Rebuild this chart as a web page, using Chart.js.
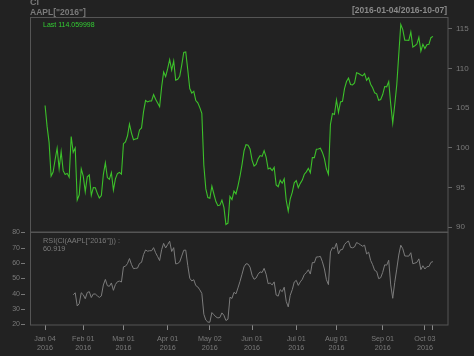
<!DOCTYPE html>
<html><head><meta charset="utf-8">
<script src="https://cdn.jsdelivr.net/npm/chart.js@4.4.1/dist/chart.umd.min.js"></script>
<style>
html,body{margin:0;padding:0;background:#222222;width:474px;height:356px;overflow:hidden;font-family:"Liberation Sans",Arial,sans-serif}
.t{position:absolute;white-space:pre;line-height:1}
#w1{position:absolute;left:0;top:0;width:474px;height:233px}
#w2{position:absolute;left:0;top:222px;width:474px;height:134px}
</style></head><body>
<div id="w1"><canvas id="c1" width="474" height="233"></canvas></div>
<div id="w2"><canvas id="c2" width="474" height="134"></canvas></div>
<div class="t" style="left:30px;top:-2px;font-size:9px;font-weight:bold;color:#7a7a7a">Cl</div>
<div class="t" style="left:30px;top:8px;font-size:8.5px;font-weight:bold;color:#7a7a7a">AAPL["2016"]</div>
<div class="t" style="right:27px;top:5.5px;font-size:8.5px;font-weight:bold;color:#8a8a8a">[2016-01-04/2016-10-07]</div>
<div class="t" style="left:43px;top:21px;font-size:7px;color:#33cc33">Last 114.059998</div>
<div class="t" style="left:43px;top:237px;font-size:7.3px;color:#7a7a7a">RSI(Cl(AAPL["2016"])) :</div>
<div class="t" style="left:43px;top:244.5px;font-size:7.3px;color:#7a7a7a">60.919</div>
<script>
// AAPL daily close, 2016-01-04 .. 2016-10-07 (194 trading days)
const closes=[105.35,102.71,100.70,96.45,96.96,98.53,99.96,97.39,99.52,97.13,96.66,96.79,96.30,101.42,99.44,99.99,93.42,94.09,97.34,
96.43,94.48,96.35,96.60,94.02,95.01,94.99,94.27,93.70,93.99,96.64,98.12,96.26,96.04,96.88,94.69,96.10,96.76,96.91,96.69,
100.53,100.75,101.50,103.01,101.87,101.03,101.12,101.17,102.26,102.52,104.58,105.97,105.80,105.92,105.91,106.72,106.13,105.67,105.19,107.68,109.56,108.99,
109.99,111.12,109.81,110.96,108.54,108.66,109.02,110.44,112.04,112.10,109.85,107.48,106.91,107.13,105.97,105.68,105.08,104.35,97.82,94.83,93.74,
93.64,95.18,94.19,93.24,92.72,92.79,93.42,92.51,90.34,90.52,93.88,93.49,94.56,94.20,95.22,96.43,97.90,99.62,100.41,100.35,99.86,
98.46,97.72,97.92,98.63,99.03,98.94,99.65,98.83,97.34,97.46,97.14,97.55,95.33,95.10,95.91,95.55,96.10,93.40,92.04,93.59,94.40,95.60,
95.89,94.99,95.53,95.94,96.68,96.98,97.42,96.87,98.79,98.78,99.83,99.87,99.96,99.43,98.66,97.34,96.67,102.95,104.34,104.21,
106.05,104.48,105.79,105.87,107.48,108.37,108.81,108.00,107.93,108.18,109.48,109.38,109.22,109.08,109.36,108.51,108.85,108.03,107.57,106.94,106.82,106.00,106.10,
106.73,107.73,107.70,108.36,105.52,103.13,105.44,107.95,111.77,115.57,114.92,113.58,113.57,113.55,114.62,112.71,112.88,113.09,113.95,112.18,113.05,
112.52,113.00,113.05,113.89,114.06];
// RSI(14) values (first 14 undefined)
const rsiValues=[null,null,null,null,null,null,null,null,null,null,null,null,null,null,
39.3,40.6,32.0,33.5,40.6,39.3,36.7,40.8,41.3,37.5,39.8,39.8,
38.6,37.6,38.5,45.7,49.3,45.2,44.8,47.0,42.2,46.0,47.8,48.2,
47.6,57.5,57.9,59.6,62.9,59.0,56.3,56.5,56.7,59.7,60.4,65.5,
68.5,67.7,68.0,68.0,70.0,66.7,64.2,61.6,68.7,72.8,69.8,72.0,
74.2,67.5,70.0,59.4,59.7,60.7,64.5,68.3,68.4,58.4,50.1,48.3,
49.1,45.3,44.4,42.5,40.2,26.6,22.8,21.5,21.4,27.7,26.3,24.9,
24.2,24.5,27.5,25.9,22.5,23.4,37.7,36.9,40.9,39.9,43.8,48.0,
52.7,57.5,59.5,59.3,57.3,52.0,49.4,50.2,52.7,54.2,53.8,56.5,
52.7,46.5,47.0,45.7,47.7,39.1,38.4,42.6,41.3,44.2,35.0,31.4,
39.0,42.6,47.6,48.7,45.4,47.7,49.4,52.5,53.7,55.6,52.8,60.3,
60.2,63.9,64.0,64.3,60.8,56.1,49.1,45.9,67.2,70.0,69.4,72.9,
65.9,68.6,68.8,72.0,73.5,74.3,70.2,69.9,70.5,73.3,72.7,71.8,
70.9,71.6,65.9,67.1,61.7,58.9,55.2,54.5,49.8,50.4,53.9,58.8,
58.6,61.8,45.7,37.0,47.4,56.0,65.2,71.6,69.3,64.6,64.5,64.5,
66.7,59.5,59.9,60.4,62.7,55.7,58.2,56.1,57.6,57.7,60.4,60.9];
// x-axis ticks: trading-day index and label
const xTickIndex=[0,19,39,61,82,103,125,145,168,189,193];
const xTickLabels=['Jan 04\n2016','Feb 01\n2016','Mar 01\n2016','Apr 01\n2016','May 02\n2016','Jun 01\n2016','Jul 01\n2016','Aug 01\n2016','Sep 01\n2016','Oct 03\n2016',''];
const priceTicks=[90,95,100,105,110,115];
const rsiTicks=[20,30,40,50,60,70,80];

const FONT='"Liberation Sans", Arial, sans-serif';
const X_MIN=-7.5, X_MAX=200.5;
Chart.defaults.font.family=FONT;

function noPad(s){s.paddingTop=0;s.paddingBottom=0;s.paddingLeft=0;s.paddingRight=0;}

const boxPlugin={id:'box',afterDraw(chart,args,opts){
  const a=chart.chartArea,ctx=chart.ctx;ctx.save();
  ctx.strokeStyle='#555555';ctx.lineWidth=1;
  ctx.strokeRect(a.left+0.5,a.top+0.5,a.right-a.left-0.5,a.bottom-a.top-0.5);
  if(opts.leftTicks){const s=chart.scales.y;ctx.strokeStyle='#777777';ctx.beginPath();
    s.ticks.forEach(t=>{const y=Math.round(s.getPixelForValue(t.value))+0.5;ctx.moveTo(21,y);ctx.lineTo(25,y);});ctx.stroke();}
  ctx.restore();}};

new Chart(document.getElementById('c1'),{
  type:'line',
  data:{datasets:[{data:closes.map((v,i)=>({x:i,y:v})),borderColor:'#3cc02a',borderWidth:1.1,pointRadius:0,tension:0,fill:false}]},
  options:{responsive:false,devicePixelRatio:1,animation:false,
    layout:{padding:{left:30,top:17,right:0,bottom:1}},
    plugins:{legend:{display:false},tooltip:{enabled:false},box:{leftTicks:false}},
    scales:{
      x:{type:'linear',display:false,min:X_MIN,max:X_MAX},
      y:{position:'right',min:89.4,max:116.5,
        afterBuildTicks:s=>{s.ticks=priceTicks.map(v=>({value:v}));},
        afterFit:s=>{s.width=26;noPad(s);},
        border:{display:false},
        grid:{drawOnChartArea:false,drawTicks:true,tickLength:4,color:'#666666'},
        ticks:{padding:4,color:'#7a7a7a',font:{size:8}}}
    }},
  plugins:[boxPlugin]});

new Chart(document.getElementById('c2'),{
  type:'line',
  data:{datasets:[{data:rsiValues.map((v,i)=>({x:i,y:v})),borderColor:'#7c7c7c',borderWidth:1,pointRadius:0,tension:0,fill:false,spanGaps:false}]},
  options:{responsive:false,devicePixelRatio:1,animation:false,
    layout:{padding:{left:0,top:10,right:26,bottom:0}},
    plugins:{legend:{display:false},tooltip:{enabled:false},box:{leftTicks:true}},
    scales:{
      x:{type:'linear',min:X_MIN,max:X_MAX,
        afterBuildTicks:s=>{s.ticks=xTickIndex.map(v=>({value:v}));},
        afterFit:s=>{s.height=31;noPad(s);},
        border:{display:false},
        grid:{drawOnChartArea:false,drawTicks:true,tickLength:5,color:'#888888'},
        ticks:{autoSkip:false,maxRotation:0,minRotation:0,padding:5,color:'#7a7a7a',font:{size:7.2,lineHeight:1.2},
          callback:(v,i)=>xTickLabels[i].split('\n')}},
      y:{position:'left',min:19.6,max:80.2,
        afterBuildTicks:s=>{s.ticks=rsiTicks.map(v=>({value:v}));},
        afterFit:s=>{s.width=30;noPad(s);},
        border:{display:false},
        grid:{display:false,drawTicks:false},
        ticks:{padding:10,color:'#7a7a7a',font:{size:7}}}
    }},
  plugins:[boxPlugin]});
</script></body></html>
